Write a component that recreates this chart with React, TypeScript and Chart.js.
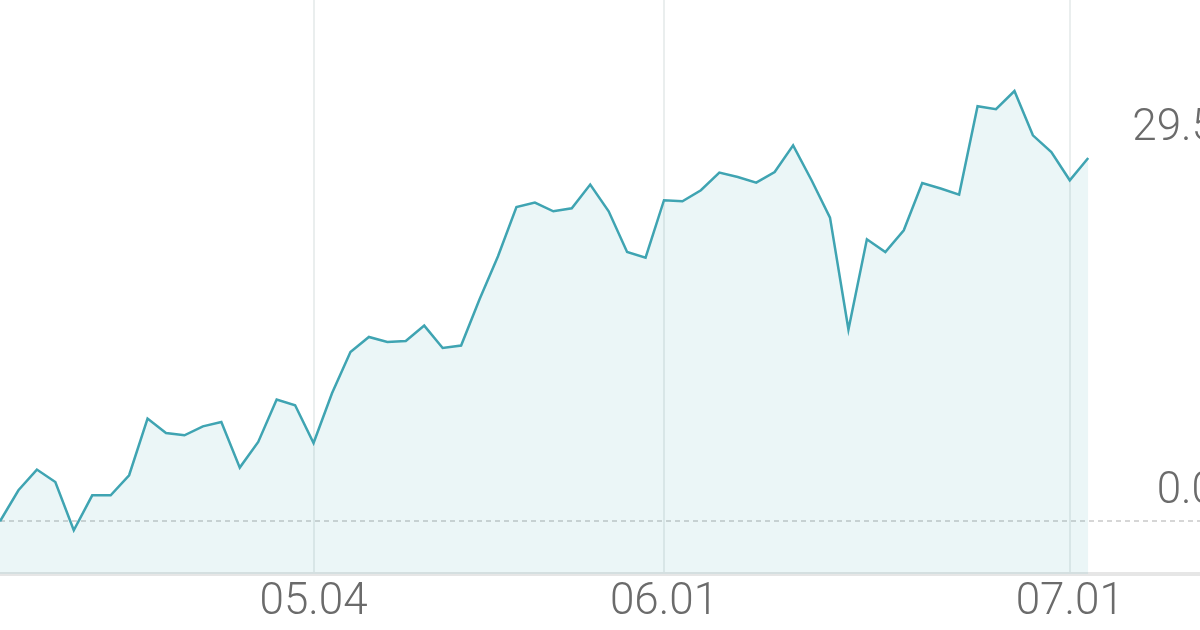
import React, { useEffect, useRef } from "react";
import { Chart, registerables } from "chart.js";

Chart.register(...registerables);

// cumulative return (%) per trading day
const returns: number[] = [
  0, 2.52, 4.2, 3.19, -0.73, 2.11, 2.11, 3.74, 8.34, 7.17,
  6.98, 7.71, 8.06, 4.36, 6.44, 9.88, 9.42, 6.36, 10.39, 13.75,
  14.97, 14.56, 14.64, 15.89, 14.07, 14.27, 18.03, 21.52, 25.52, 25.88,
  25.17, 25.42, 27.34, 25.17, 21.87, 21.41, 26.07, 25.98, 26.88, 28.31,
  27.96, 27.5, 28.36, 30.53, 27.69, 24.66, 15.57, 22.9, 21.87, 23.63,
  27.47, 27.02, 26.53, 33.7, 33.46, 34.94, 31.34, 29.99, 27.69, 29.5,
];

// x tick positions (trading-day index) and their labels
const xTickIndices: number[] = [17, 36, 58];
const xTickLabels: string[] = ["05.04", "06.01", "07.01"];

// right-side value labels
const yLabelValues: number[] = [29.5, 0];
const yLabelTexts: string[] = ["29.5", "0.0"];

const FONT_FAMILY = "Roboto, 'Noto Sans', sans-serif";
const TEXT_COLOR = "#6b6b6b";

export default function App() {
  const canvasRef = useRef<HTMLCanvasElement | null>(null);

  useEffect(() => {
    document.body.style.margin = "0";
    const canvas = canvasRef.current;
    if (!canvas) return;

    const yLabelPlugin = {
      id: "yLabels",
      afterDraw(chart: any) {
        const ctx = chart.ctx;
        const ys = chart.scales.y;
        ctx.save();
        ctx.font = `300 44px ${FONT_FAMILY}`;
        ctx.fillStyle = TEXT_COLOR;
        ctx.textAlign = "right";
        ctx.textBaseline = "middle";
        yLabelValues.forEach((v, i) => {
          ctx.fillText(yLabelTexts[i], chart.chartArea.right + 16, ys.getPixelForValue(v) - 29.5);
        });
        ctx.restore();
      },
    };

    const chart = new Chart(canvas, {
      type: "line",
      data: {
        datasets: [
          {
            data: returns.map((v, i) => ({ x: i, y: v })),
            borderColor: "#3fa4b2",
            borderWidth: 2.5,
            backgroundColor: "rgba(61,166,176,0.1)",
            fill: "start",
            pointRadius: 0,
            tension: 0,
          },
        ],
      },
      options: {
        animation: false,
        responsive: true,
        maintainAspectRatio: false,
        devicePixelRatio: 1,
        layout: { padding: 0 },
        plugins: {
          legend: { display: false },
          tooltip: { enabled: false },
        },
        scales: {
          x: {
            type: "linear",
            min: 0,
            max: 65.06,
            afterBuildTicks: (scale: any) => {
              scale.ticks = xTickIndices.map((v) => ({ value: v }));
            },
            afterFit: (scale: any) => {
              scale.height = 56;
            },
            ticks: {
              autoSkip: false,
              maxRotation: 0,
              padding: 3,
              color: TEXT_COLOR,
              font: { family: FONT_FAMILY, size: 44, weight: "300" as any },
              callback: (value: any) => {
                const k = xTickIndices.indexOf(Number(value));
                return k >= 0 ? xTickLabels[k] : "";
              },
            },
            grid: {
              color: "#eaeeee",
              lineWidth: 2,
              drawTicks: false,
            },
            border: { display: true, color: "#e6e6e6", width: 4 },
          },
          y: {
            type: "linear",
            position: "right",
            min: -4.28,
            max: 42.33,
            afterBuildTicks: (scale: any) => {
              scale.ticks = [{ value: 0 }];
            },
            afterFit: (scale: any) => {
              scale.width = 0;
            },
            ticks: { display: false },
            grid: {
              color: "#d6d6d6",
              lineWidth: 2,
              drawTicks: false,
            },
            border: { display: false, dash: [5, 4] },
          },
        },
      },
      plugins: [yLabelPlugin],
    });

    return () => chart.destroy();
  }, []);

  return (
    <div style={{ width: 1200, height: 630, position: "relative", overflow: "hidden" }}>
      <canvas ref={canvasRef} />
    </div>
  );
}
